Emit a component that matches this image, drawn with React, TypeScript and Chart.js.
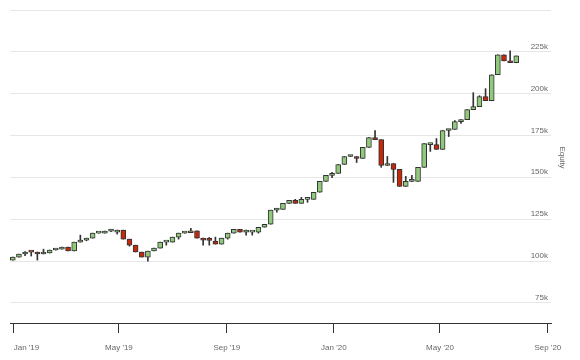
import React, { useEffect, useRef } from 'react';
import { Chart, registerables } from 'chart.js';
Chart.register(...registerables);

// Weekly candles (week start dates)
const weeks = [
  '2018-12-31', '2019-01-07', '2019-01-14', '2019-01-21', '2019-01-28', '2019-02-04', '2019-02-11', '2019-02-18',
  '2019-02-25', '2019-03-04', '2019-03-11', '2019-03-18', '2019-03-25', '2019-04-01', '2019-04-08', '2019-04-15',
  '2019-04-22', '2019-04-29', '2019-05-06', '2019-05-13', '2019-05-20', '2019-05-27', '2019-06-03', '2019-06-10',
  '2019-06-17', '2019-06-24', '2019-07-01', '2019-07-08', '2019-07-15', '2019-07-22', '2019-07-29', '2019-08-05',
  '2019-08-12', '2019-08-19', '2019-08-26', '2019-09-02', '2019-09-09', '2019-09-16', '2019-09-23', '2019-09-30',
  '2019-10-07', '2019-10-14', '2019-10-21', '2019-10-28', '2019-11-04', '2019-11-11', '2019-11-18', '2019-11-25',
  '2019-12-02', '2019-12-09', '2019-12-16', '2019-12-23', '2019-12-30', '2020-01-06', '2020-01-13', '2020-01-20',
  '2020-01-27', '2020-02-03', '2020-02-10', '2020-02-17', '2020-02-24', '2020-03-02', '2020-03-09', '2020-03-16',
  '2020-03-23', '2020-03-30', '2020-04-06', '2020-04-13', '2020-04-20', '2020-04-27', '2020-05-04', '2020-05-11',
  '2020-05-18', '2020-05-25', '2020-06-01', '2020-06-08', '2020-06-15', '2020-06-22', '2020-06-29', '2020-07-06',
  '2020-07-13', '2020-07-20', '2020-07-27',
];

const opens = [
  100600, 102400, 104200, 105400, 105300, 104200, 104800, 106600, 107100, 108300, 106000, 111300, 112500, 113700,
  116700, 116700, 117900, 117300, 118500, 113100, 109500, 105400, 102400, 106000, 107700, 111300, 111300, 114300,
  116700, 116900, 118100, 113700, 112500, 111900, 110100, 113700, 116700, 119000, 117300, 117300, 117300, 120200,
  122000, 130400, 130900, 134500, 136300, 134500, 136900, 136900, 141100, 147600, 151200, 152400, 157700, 162500,
  162500, 161300, 167900, 173800, 172600, 157100, 158300, 154800, 144600, 147600, 147600, 156000, 169600, 169600,
  166700, 178000, 178600, 183300, 184500, 190500, 192300, 198200, 195800, 211300, 223200, 219600, 218500,
];
const highs = [
  102400, 104200, 105700, 105400, 105400, 107100, 106600, 106800, 108300, 108300, 111300, 115500, 113700, 116700,
  116800, 117900, 119000, 118500, 118500, 113100, 109500, 105400, 106000, 107700, 111300, 111400, 114300, 116700,
  117300, 119600, 118100, 113700, 114100, 114300, 113700, 116700, 119000, 119000, 118500, 117400, 120200, 122000,
  130400, 131500, 134500, 136300, 136900, 138100, 137000, 141100, 147600, 151200, 153000, 157700, 162500, 163100,
  162500, 167900, 173800, 178000, 172600, 162500, 158300, 154800, 150600, 151200, 156000, 170200, 170200, 173200,
  178000, 178600, 184000, 184500, 190500, 200600, 198800, 203000, 211300, 223200, 223200, 225600, 222600,
];
const lows = [
  100600, 102400, 103300, 103000, 100600, 104200, 104800, 106500, 107100, 106000, 106000, 111300, 112100, 113700,
  116600, 116700, 117600, 116100, 113100, 108900, 105400, 102400, 100000, 106000, 107700, 109500, 111300, 113100,
  116600, 116900, 113700, 109500, 109500, 110100, 110100, 113100, 116700, 117300, 115500, 115500, 116700, 120200,
  122000, 129200, 130900, 134500, 134500, 134500, 135100, 136900, 141100, 147600, 149800, 152400, 157700, 162400,
  158900, 161300, 167900, 172600, 156000, 157100, 147000, 144600, 144600, 147500, 147600, 156000, 165500, 166700,
  166700, 174400, 178600, 182200, 184500, 190500, 192300, 195800, 195800, 211300, 219600, 218500, 218500,
];
const closes = [
  102400, 104200, 105400, 105300, 104200, 104800, 106600, 106700, 108300, 106000, 111300, 112500, 113700, 116700,
  116700, 117900, 117900, 118500, 113100, 109500, 105400, 102400, 106000, 107700, 111300, 111300, 114300, 116700,
  116700, 118100, 113700, 112500, 112400, 110100, 113700, 116700, 119000, 117300, 117300, 117300, 120200, 122000,
  130400, 130900, 134500, 136300, 134500, 136900, 136900, 141100, 147600, 151200, 152400, 157700, 162500, 162500,
  161300, 167900, 173800, 172600, 157100, 158300, 154800, 144600, 147600, 147600, 156000, 170200, 170200, 166700,
  178000, 178600, 183300, 184500, 190500, 192300, 198200, 195800, 211300, 223200, 219600, 218500, 222600,
];

const xTickDates = ['2019-01-01', '2019-05-01', '2019-09-01', '2020-01-01', '2020-05-01', '2020-09-01'];
const xTickLabels = ["Jan '19", "May '19", "Sep '19", "Jan '20", "May '20", "Sep '20"];
const yTickValues = [75000, 100000, 125000, 150000, 175000, 200000, 225000, 250000];
const yTickLabels = ['75k', '100k', '125k', '150k', '175k', '200k', '225k', ''];
const yTitle = 'Equity';

const ORIGIN = Date.UTC(2019, 0, 1);
function dayOf(s: string): number {
  const [y, m, d] = s.split('-').map(Number);
  return (Date.UTC(y, m - 1, d) - ORIGIN) / 86400000;
}

const UP = '#90c97c';
const DOWN = '#c4290c';
const EDGE = '#333333';
const FONT = '"Liberation Sans", Arial, sans-serif';

export default function App() {
  const ref = useRef<HTMLCanvasElement | null>(null);
  useEffect(() => {
    if (!ref.current) return;
    const xs = weeks.map(dayOf);
    const wickData = xs.map((x, i) => ({ x, y: [lows[i], highs[i]] }));
    const bodyData = xs.map((x, i) => ({ x, y: [opens[i], closes[i]] }));
    const bodyColors = closes.map((c, i) => (c >= opens[i] ? UP : DOWN));

    const labelPlugin = {
      id: 'axisLabels',
      afterDraw(chart: any) {
        const ctx = chart.ctx;
        const ys = chart.scales.y;
        const xsc = chart.scales.x;
        const area = chart.chartArea;
        ctx.save();
        ctx.font = `8px ${FONT}`;
        ctx.fillStyle = '#666666';
        // y tick labels, inside the plot, above their grid lines
        ctx.textAlign = 'right';
        ctx.textBaseline = 'alphabetic';
        yTickValues.forEach((v, i) => {
          const lab = yTickLabels[i];
          if (!lab) return;
          ctx.fillText(lab, area.right - 3, ys.getPixelForValue(v) - 3);
        });
        // x tick labels (first one justified to start at its tick)
        ctx.textBaseline = 'middle';
        xTickDates.forEach((d, i) => {
          const px = xsc.getPixelForValue(dayOf(d));
          ctx.textAlign = i === 0 ? 'left' : 'center';
          ctx.fillText(xTickLabels[i], px, area.bottom + 25);
        });
        // axis title
        ctx.translate(area.right + 11, (area.top + area.bottom) / 2 - 9);
        ctx.rotate(Math.PI / 2);
        ctx.textAlign = 'center';
        ctx.textBaseline = 'middle';
        ctx.fillText(yTitle, 0, 0);
        ctx.restore();
      },
    };

    const chart = new Chart(ref.current, {
      type: 'bar',
      data: {
        datasets: [
          {
            label: 'wick',
            data: wickData as any,
            backgroundColor: EDGE,
            borderWidth: 0,
            barThickness: 1,
            grouped: false,
            order: 2,
          } as any,
          {
            label: 'body',
            data: bodyData as any,
            backgroundColor: bodyColors,
            borderColor: EDGE,
            borderWidth: 1,
            borderSkipped: false,
            barThickness: 5,
            minBarLength: 2,
            grouped: false,
            order: 1,
          } as any,
        ],
      },
      options: {
        animation: false,
        responsive: true,
        maintainAspectRatio: false,
        layout: { padding: { left: 10, right: 29, top: 10, bottom: 0 } },
        plugins: { legend: { display: false }, tooltip: { enabled: false } },
        scales: {
          x: {
            type: 'linear',
            min: -4.2,
            max: 612.6,
            offset: false,
            afterFit: (s: any) => { s.height = 37; s.paddingLeft = 0; s.paddingRight = 0; },
            afterBuildTicks: (s: any) => { s.ticks = xTickDates.map((d) => ({ value: dayOf(d) })); },
            grid: { display: true, offset: false, drawOnChartArea: false, drawTicks: true, tickLength: 10, color: EDGE, lineWidth: 1 },
            border: { display: true, color: EDGE, width: 1 },
            ticks: { display: false },
          },
          y: {
            type: 'linear',
            position: 'right',
            min: 63000,
            max: 250000,
            afterFit: (s: any) => { s.width = 0; s.paddingTop = 0; s.paddingBottom = 0; },
            afterBuildTicks: (s: any) => { s.ticks = yTickValues.map((v) => ({ value: v })); },
            grid: { display: true, drawTicks: false, color: '#e6e6e6', lineWidth: 1 },
            border: { display: false },
            ticks: { display: false },
          },
        },
      },
      plugins: [labelPlugin],
    });
    return () => chart.destroy();
  }, []);

  return (
    <div style={{ position: 'fixed', left: 0, top: 0, width: 580, height: 360, background: '#fff' }}>
      <canvas ref={ref} />
    </div>
  );
}
